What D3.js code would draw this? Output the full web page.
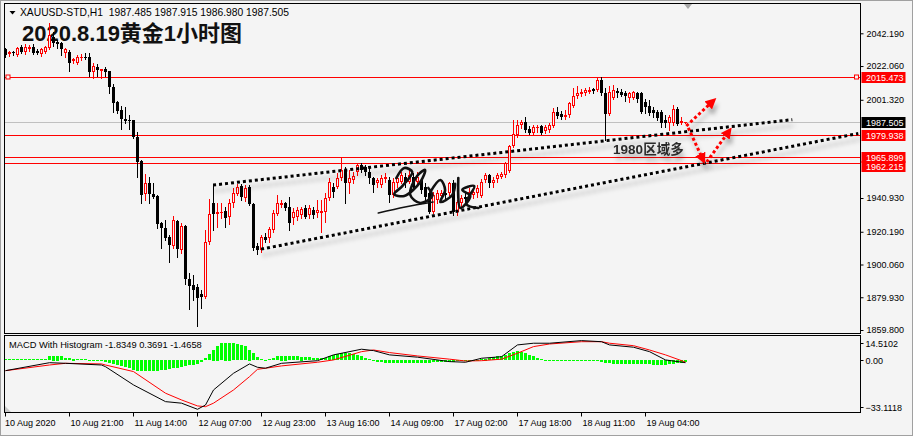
<!DOCTYPE html>
<html>
<head>
<meta charset="utf-8">
<script src="https://cdnjs.cloudflare.com/ajax/libs/d3/7.8.5/d3.min.js"></script>
<style>
  html, body { margin: 0; padding: 0; background: #f4f4f4; }
  svg { display: block; }
  text { font-family: "Liberation Sans", Arial, sans-serif; }
</style>
</head>
<body>
<div id="grafica"></div>
<script>
// ---------- datos ----------
// velas H1: [open, high, low, close]
ohlc = [
 [2032.3,2033.0,2027.8,2028.9],[2029.3,2031.1,2028.4,2030.5],[2030.7,2031.5,2028.9,2029.9],[2028.9,2033.9,2028.2,2033.0],
 [2033.6,2034.8,2030.3,2030.9],[2030.9,2035.4,2029.5,2033.6],[2032.5,2035.2,2031.5,2033.9],[2033.6,2035.6,2029.3,2029.9],
 [2031.5,2032.5,2029.3,2030.3],[2029.3,2033.3,2028.4,2032.5],[2030.7,2034.6,2029.9,2033.6],[2033.0,2048.3,2032.3,2041.1],
 [2040.1,2043.0,2034.4,2036.0],[2036.7,2038.1,2033.0,2035.4],[2036.0,2036.8,2028.9,2032.3],[2030.3,2033.0,2027.8,2032.3],
 [2030.5,2031.9,2019.2,2023.7],[2025.2,2027.2,2023.7,2026.2],[2024.1,2028.9,2023.3,2027.4],[2026.8,2029.5,2025.8,2027.8],
 [2027.8,2029.9,2026.2,2027.2],[2027.8,2029.9,2015.9,2018.6],[2018.6,2024.1,2014.9,2022.1],[2021.7,2023.3,2015.9,2019.6],
 [2019.2,2020.1,2014.5,2020.1],[2020.1,2021.7,2015.9,2018.6],[2019.0,2019.3,2005.3,2009.0],[2009.0,2011.0,1994.0,1999.5],
 [2000.1,2000.5,1993.0,1994.6],[1995.0,1997.7,1983.2,1989.3],[1989.5,1997.1,1986.9,1988.3],[1988.9,1992.0,1983.2,1988.5],
 [1988.9,1989.2,1977.6,1978.3],[1978.6,1981.7,1953.7,1963.3],[1963.9,1964.2,1938.1,1942.8],[1943.2,1955.7,1939.7,1950.0],
 [1950.4,1953.7,1937.7,1943.2],[1943.4,1950.4,1940.8,1941.4],[1942.2,1942.5,1922.3,1925.0],[1925.8,1926.4,1910.0,1922.3],
 [1922.3,1927.4,1915.1,1916.2],[1916.8,1918.2,1901.4,1912.0],[1911.6,1929.9,1910.0,1927.4],[1926.6,1927.4,1904.9,1909.6],
 [1909.0,1925.4,1907.3,1923.7],[1923.7,1924.4,1888.1,1891.0],[1891.0,1894.7,1872.5,1886.9],[1887.5,1893.6,1878.3,1884.4],
 [1886.2,1888.1,1862.3,1879.5],[1881.9,1884.4,1873.3,1880.1],[1880.1,1921.3,1879.5,1913.9],[1913.7,1940.2,1912.7,1930.9],
 [1937.7,1949.6,1921.3,1930.9],[1930.9,1937.7,1923.3,1932.2],[1931.5,1937.7,1928.5,1932.3],[1932.9,1935.6,1923.3,1928.8],
 [1929.1,1940.2,1925.0,1937.7],[1937.7,1946.9,1935.6,1943.8],[1943.4,1949.6,1942.8,1947.9],[1948.3,1949.6,1939.7,1941.4],
 [1940.8,1948.9,1939.3,1946.9],[1947.5,1948.9,1936.6,1937.1],[1937.3,1937.9,1909.0,1910.2],[1911.4,1913.3,1906.5,1909.0],
 [1909.0,1918.2,1907.8,1916.9],[1917.2,1919.4,1914.1,1915.1],[1916.2,1923.3,1914.1,1921.7],[1921.3,1933.6,1920.2,1931.5],
 [1931.1,1942.8,1930.5,1937.7],[1936.8,1939.7,1935.6,1937.7],[1937.7,1938.7,1933.6,1934.6],[1935.6,1941.6,1921.3,1925.4],
 [1928.6,1934.8,1925.0,1932.3],[1929.4,1935.6,1927.4,1933.6],[1930.5,1935.6,1928.5,1934.0],[1934.6,1936.6,1928.5,1929.4],
 [1930.5,1936.6,1928.5,1934.6],[1933.6,1935.6,1928.5,1930.5],[1931.5,1939.7,1929.4,1933.6],[1931.5,1939.7,1920.2,1933.1],
 [1932.5,1943.8,1926.4,1940.8],[1940.8,1953.0,1939.7,1950.9],[1947.5,1950.0,1941.7,1944.8],[1947.9,1956.1,1946.9,1953.0],
 [1953.0,1966.0,1952.0,1958.2],[1958.2,1960.2,1937.7,1950.0],[1950.0,1958.2,1943.8,1953.4],[1952.0,1957.1,1950.0,1954.5],
 [1957.1,1962.3,1955.1,1961.2],[1961.2,1962.3,1957.1,1958.2],[1960.2,1961.2,1955.1,1957.1],[1957.1,1959.2,1950.0,1953.0],
 [1953.0,1954.0,1944.8,1948.9],[1950.0,1953.0,1947.9,1952.0],[1948.9,1955.1,1947.9,1953.0],[1952.4,1956.1,1950.9,1954.0],
 [1952.0,1954.0,1938.7,1942.8],[1942.8,1953.0,1941.7,1950.9],[1950.0,1955.1,1947.9,1953.0],[1950.9,1957.1,1950.0,1955.1],
 [1954.0,1956.1,1947.9,1950.0],[1950.9,1958.2,1950.0,1955.1],[1954.0,1956.1,1946.9,1947.9],[1950.9,1957.1,1950.0,1954.0],
 [1952.0,1953.0,1943.8,1945.9],[1947.9,1950.0,1939.7,1941.7],[1943.8,1945.9,1931.5,1932.5],[1932.5,1944.8,1931.5,1942.8],
 [1939.7,1945.9,1937.7,1943.8],[1942.2,1945.9,1940.8,1943.8],[1944.2,1945.9,1940.8,1942.8],[1943.8,1950.9,1942.8,1950.0],
 [1950.0,1952.0,1930.5,1932.5],[1932.5,1939.7,1930.5,1938.7],[1937.7,1942.8,1935.6,1940.8],[1941.7,1943.8,1937.7,1940.2],
 [1941.7,1946.9,1939.7,1944.8],[1942.8,1946.9,1940.8,1944.8],[1943.8,1948.9,1941.7,1946.9],[1942.2,1952.4,1941.7,1950.9],
 [1952.0,1956.5,1950.9,1955.1],[1955.1,1955.7,1947.9,1950.4],[1950.4,1954.0,1947.5,1952.0],[1952.4,1956.1,1950.9,1955.1],
 [1953.7,1957.1,1953.0,1955.7],[1955.1,1963.3,1954.0,1962.3],[1957.7,1973.5,1957.1,1972.9],[1972.9,1988.9,1972.1,1980.3],
 [1979.7,1988.9,1978.3,1985.8],[1985.8,1988.9,1983.8,1987.9],[1987.9,1990.9,1981.7,1982.7],[1983.2,1985.2,1980.3,1981.1],
 [1981.1,1985.8,1980.3,1984.8],[1983.8,1985.8,1981.7,1984.8],[1985.2,1985.8,1980.3,1981.1],[1982.3,1985.8,1980.7,1984.8],
 [1982.7,1986.9,1981.7,1985.8],[1985.2,1996.1,1984.8,1994.0],[1994.0,1997.1,1989.9,1991.4],[1992.6,1994.6,1989.3,1990.5],
 [1990.5,1995.0,1989.3,1992.0],[1992.0,2000.1,1990.9,1999.2],[1997.5,2008.4,1997.1,2003.6],[2003.6,2009.8,2002.2,2005.7],
 [2004.9,2007.8,2003.6,2006.3],[2005.7,2008.4,2004.3,2007.3],[2006.3,2009.4,2005.3,2007.3],[2007.8,2008.4,2005.3,2006.9],
 [2007.3,2015.5,2006.9,2013.5],[2013.5,2015.1,2004.3,2005.3],[2005.3,2008.4,1976.6,1992.6],[1992.6,2009.8,1992.0,2006.3],
 [2002.2,2010.4,2001.6,2007.3],[2006.9,2008.4,2003.2,2005.3],[2006.3,2007.8,2003.6,2004.3],[2005.3,2006.9,2000.8,2003.6],
 [2002.2,2006.3,2000.1,2005.3],[2002.2,2006.9,2001.6,2006.3],[2005.7,2006.3,2000.1,2001.6],[2005.7,2006.3,1993.4,1994.0],
 [2000.1,2001.6,1993.4,1997.1],[1997.5,2001.2,1992.0,1993.0],[1995.0,1997.1,1990.9,1993.4],[1994.0,1995.0,1988.9,1989.9],
 [1994.0,1995.0,1984.8,1986.9],[1988.9,1992.0,1984.8,1987.2],[1986.9,1992.0,1982.7,1990.5],[1986.9,1998.1,1985.8,1995.5],
 [1995.5,1997.1,1985.8,1986.4],[1987.2,1990.5,1986.4,1988.5],[1987.485,1987.915,1986.980,1987.505]
]

// MACD: histograma (una barra por vela)
histograma = [
 0.8,0.8,0.8,0.8,0.8,0.8,0.8,0.8,0.8,0.8,0.8,
 2.5,3,3,2.5, 1.5,1.2,1,0.8, 0.6,0.5,0.3,0.2,0,-0.3,
 -1,-1.8,-2.5,-3.5,-4, -4.5,-5.5,-6.5,-7.2,-7.5,
 -7.5,-7.2,-7,-7,-6.8,-6.5,-6, -5.5,-5,-4.5,-4,-3.5,-3,-2.5,
 -1,1.5, 4,7,9.5,11,11.5, 11.5,11,10.5,10,9, 7,4.5,2, 0.5,0.3,0.5,
 1.5,2.5,3,3, 2.8,2.5,2.5,2.3,2,1.8,1.5,1.5, 1.3,1.5,2.5,3.5,4,4.5,
 4.5,4.5,4,3.5, 2.5,1.5,0.5,-0.5,
 -1,-1.5,-1.8,-2,-2,-2,-2,-1.8,-1.8,-1.8,-2,-2.2,-2,-1.8,-1.5,-1.5,-1.5,-1.5,
 -1.2,-1,-0.8,-0.5,-0.5,-0.3,0,0.3, 0.5,1,1.5,2,2.5,2.8, 3.5,4.5,5.5,6,5.5,4.5,
 3.5,2.5,1.5,0.8,
 0.3,0.2,0.2,0.1,0,0.2,0.3,0.3,0.2,0.1,0,0,-0.3,-0.5,-1,
 -1.8,-2.2,-2.5,-2.5,-2.5,-2.5,-2.5,-2.5,-2.5,-2.8,-2.8,-2.8,-3,-3,-3,-3,-2.8,-2.5,-2.2,-1.8,-1.5
]
macdIdx   = [0,11,15,24,25,32,40,44,48,50,52,57,61,63,65,69,78,82,89,92,96,103,111,115,119,124,128,132,136,144,149,151,157,161,165,170]
macdLinea = [-6.8,-1.6,-2.0,-3.1,-4.2,-16.1,-27.0,-28.0,-32.0,-29.2,-19.4,-8.5,-2.4,-4.6,-5.2,-2.0,-0.3,3.5,7.2,6.3,3.5,2.0,-0.9,-1.3,1.3,2.3,10.0,11.1,11.1,12.8,12.1,10.0,8.5,5.6,0.2,-1.6]
senal     = [-6.8,-3.1,-2.0,-2.4,-3.1,-7.4,-21.5,-25.9,-29.8,-30.3,-28.0,-19.4,-10.7,-5.9,-5.2,-3.7,-1.3,0.2,5.6,6.7,5.0,2.8,0.7,-0.5,-0.3,0.7,4.6,8.9,10.6,12.1,12.1,11.1,9.5,6.7,3.5,-1.2]

// ejes
preciosTicks = [2042.190, 2022.060, 2001.320, 1940.930, 1920.190, 1900.060, 1879.930, 1859.800]
macdTicks    = [14.5102, 0, -33.1118]
fechasIdx    = [0, 16, 32, 48, 64, 80, 96, 112, 128, 144, 160]
fechas       = ['10 Aug 2020','10 Aug 21:00','11 Aug 14:00','12 Aug 07:00','12 Aug 23:00','13 Aug 16:00',
                '14 Aug 09:00','17 Aug 02:00','17 Aug 18:00','18 Aug 11:00','19 Aug 04:00']

// niveles horizontales
nivelesRojos = [2015.473, 1979.938, 1962.215, 1965.899]
precioBid    = 1987.505

// objetos dibujados: [indice de vela, precio]
lineaSuperior = [[51.9, 1948.9], [196.7, 1989.1]]
lineaInferior = [[63.9, 1909.5], [213.2, 1980.6]]
flechas = [
  [[170.2, 1985.2], [176.9, 2000.6]],
  [[170.7, 1984.0], [174.4, 1964.3]],
  [[175.3, 1963.1], [180.9, 1982.1]]
]
firma = [
  [[93.2,1931.7],[99.9,1935.4],[106.9,1938.5]],
  [[97.7,1953.2],[99.7,1959.4],[101.7,1956.9],[99.2,1948.3],[97.2,1943.4],[99.7,1942.2],[103.7,1950.8],
   [104.9,1958.2],[102.9,1954.5],[101.2,1942.8],[103.7,1937.9],[106.7,1942.2],[105.7,1947.1]],
  [[106.2,1944.6],[108.7,1952.0],[109.9,1945.9],[108.7,1938.5],[111.7,1942.8],[112.4,1949.6]],
  [[113.2,1953.2],[113.7,1934.8],[116.2,1942.2],[114.2,1945.9],[117.2,1948.3],[115.2,1937.3],[118.2,1934.8]]
]
notaTexto = [151.9, 1967.7]

// ---------- lienzo ----------
ancho_total = 913
alto_total  = 436
panel = { left: 4.5, right: 860.5, top: 3.5, bottom: 333.5 }
panelM = { top: 335.5, bottom: 412.5 }
fondo = '#f4f4f4'

svg = d3.select('#grafica').append('svg')
        .attr('width', ancho_total)
        .attr('height', alto_total)

svg.append('rect').attr('width', ancho_total).attr('height', alto_total).attr('fill', fondo)
svg.append('rect').attr('x', 0.5).attr('y', 0.5).attr('width', ancho_total - 1).attr('height', alto_total - 1)
   .attr('fill', 'none').attr('stroke', '#a0a0a0')

defs = svg.append('defs')
defs.append('clipPath').attr('id', 'clipMain').append('rect')
    .attr('x', panel.left).attr('y', panel.top)
    .attr('width', panel.right - panel.left).attr('height', panel.bottom - panel.top)
defs.append('clipPath').attr('id', 'clipMacd').append('rect')
    .attr('x', panel.left).attr('y', panelM.top)
    .attr('width', panel.right - panel.left).attr('height', panelM.bottom - panelM.top)
sombra = defs.append('filter').attr('id', 'sombra')
    .attr('filterUnits', 'userSpaceOnUse').attr('x', 0).attr('y', 0).attr('width', ancho_total).attr('height', alto_total)
sombra.append('feDropShadow').attr('dx', 2).attr('dy', 6).attr('stdDeviation', 2.2)
    .attr('flood-color', '#000').attr('flood-opacity', 0.28)
defs.append('marker').attr('id', 'punta')
    .attr('viewBox', '0 0 10 10').attr('refX', 6).attr('refY', 5)
    .attr('markerWidth', 11).attr('markerHeight', 11)
    .attr('markerUnits', 'userSpaceOnUse').attr('orient', 'auto')
  .append('path').attr('d', 'M0,0 L10,5 L0,10 z').attr('fill', '#ff0000')

// escaladores
x  = d3.scaleLinear().domain([0, 170]).range([5.5, 685.5])
y  = d3.scaleLinear().domain([1859.8, 2042.19]).range([330, 33.3])
yM = d3.scaleLinear().domain([-33.1118, 14.5102]).range([411, 338])
px = (v) => Math.round(y(v))

// ---------- panel principal ----------
g = svg.append('g').attr('clip-path', 'url(#clipMain)')

g.append('line')
  .attr('x1', panel.left).attr('x2', panel.right)
  .attr('y1', px(precioBid) + 0.5).attr('y2', px(precioBid) + 0.5)
  .attr('stroke', '#c0c0c0')

g.selectAll('line.nivel').data(nivelesRojos).join('line')
  .attr('class', 'nivel')
  .attr('x1', panel.left).attr('x2', panel.right)
  .attr('y1', (d) => px(d) + 0.5).attr('y2', (d) => px(d) + 0.5)
  .attr('stroke', '#ff0000')

// marcas de seleccion del nivel 2015
;[panel.left + 1.5, panel.right - 6].forEach((xx) => {
  g.append('rect').attr('x', xx).attr('y', px(nivelesRojos[0]) - 2)
    .attr('width', 4).attr('height', 4)
    .attr('fill', fondo).attr('stroke', '#ff0000')
})

// titulo
g.append('path').attr('d', 'M9.5,11 L15.5,11 L12.5,14.5 Z').attr('fill', '#000')
g.append('text').attr('x', 20).attr('y', 16)
  .attr('font-size', '10.3px').attr('fill', '#000').style('white-space', 'pre')
  .text('XAUUSD-STD,H1  1987.485 1987.915 1986.980 1987.505')
g.append('text').attr('x', 22).attr('y', 41)
  .attr('font-size', '22px').attr('font-weight', 'bold').attr('fill', '#111')
  .style('font-family', '"Liberation Sans", "Noto Sans CJK SC", sans-serif')
  .text('2020.8.19黄金1小时图')

// velas
velas = g.append('g').selectAll('g').data(ohlc).join('g')
velas.append('line')
  .attr('x1', (d, i) => x(i)).attr('x2', (d, i) => x(i))
  .attr('y1', (d) => px(d[1])).attr('y2', (d) => px(d[2]) + 1)
  .attr('stroke', (d) => d[3] > d[0] ? '#ff0000' : '#000')
velas.each(function (d, i) {
  alcista = d[3] > d[0]
  arriba = px(Math.max(d[0], d[3]))
  abajo  = px(Math.min(d[0], d[3]))
  if (alcista && abajo - arriba >= 2) {
    d3.select(this).append('rect')
      .attr('x', x(i) - 1).attr('y', arriba + 0.5)
      .attr('width', 2).attr('height', abajo - arriba - 1)
      .attr('fill', fondo).attr('stroke', '#ff0000')
  } else {
    d3.select(this).append('rect')
      .attr('x', x(i) - 1.5).attr('y', arriba)
      .attr('width', 3).attr('height', Math.max(1, abajo - arriba))
      .attr('fill', alcista ? '#ff0000' : '#000')
  }
})

// lineas de tendencia punteadas
linea = d3.line().x((d) => x(d[0])).y((d) => y(d[1]))
g.selectAll('path.tendencia').data([lineaSuperior, lineaInferior]).join('path')
  .attr('class', 'tendencia')
  .attr('d', linea)
  .attr('fill', 'none').attr('stroke', '#000')
  .attr('stroke-width', 3).attr('stroke-dasharray', '3,3')
  .attr('filter', 'url(#sombra)')

// firma
g.selectAll('path.firma').data(firma).join('path')
  .attr('class', 'firma')
  .attr('d', d3.line().x((d) => x(d[0])).y((d) => y(d[1])).curve(d3.curveCatmullRom))
  .attr('fill', 'none').attr('stroke', '#111')
  .attr('stroke-width', (d, i) => i == 0 ? 1.6 : 2.6)
  .attr('stroke-linecap', 'round').attr('stroke-linejoin', 'round')

// texto de la zona
g.append('text')
  .attr('x', x(notaTexto[0])).attr('y', y(notaTexto[1]))
  .attr('font-size', '13.5px').attr('font-weight', 'bold').attr('fill', '#2a2a2a')
  .style('font-family', '"Liberation Sans", "Noto Sans CJK SC", sans-serif')
  .attr('filter', 'url(#sombra)')
  .text('1980区域多')

// flechas rojas
g.selectAll('path.flecha').data(flechas).join('path')
  .attr('class', 'flecha')
  .attr('d', linea)
  .attr('fill', 'none').attr('stroke', '#ff0000')
  .attr('stroke-width', 3).attr('stroke-dasharray', '3,2.5')
  .attr('marker-end', 'url(#punta)')
  .attr('filter', 'url(#sombra)')

// marca de desplazamiento
svg.append('path').attr('d', 'M684,4 L692,4 L688,9 Z').attr('fill', '#a8a8a8')

// marcos
svg.append('rect').attr('x', panel.left).attr('y', panel.top)
  .attr('width', panel.right - panel.left).attr('height', panel.bottom - panel.top)
  .attr('fill', 'none').attr('stroke', '#000')

// eje de precios
yAxisCall = d3.axisRight(y).tickValues(preciosTicks).tickSize(3).tickPadding(3)
              .tickFormat(d3.format('.3f'))
yGroup = svg.append('g').attr('transform', `translate(${panel.right}, 0)`).call(yAxisCall)
yGroup.select('.domain').remove()
yGroup.selectAll('text').attr('font-size', '9px').attr('fill', '#000')
  .attr('font-family', '"Liberation Sans", Arial, sans-serif')

// etiquetas de niveles (la de 1962.215 queda medio tapada por la de 1965.899)
desplazo = { 1962.215: 3 }
etiquetas = nivelesRojos.map((v) => ({ v: v, c: '#ff0000' }))
etiquetas.push({ v: precioBid, c: '#000' })
eg = svg.selectAll('g.etiqueta').data(etiquetas).join('g').attr('class', 'etiqueta')
eg.append('rect')
  .attr('x', panel.right + 1).attr('y', (d) => px(d.v) - 5 + (desplazo[d.v] || 0))
  .attr('width', 44).attr('height', 11)
  .attr('fill', (d) => d.c)
eg.append('text')
  .attr('x', panel.right + 5.5).attr('y', (d) => px(d.v) + 4 + (desplazo[d.v] || 0))
  .attr('font-size', '9px').attr('fill', '#fff')
  .text((d) => d3.format('.3f')(d.v))

// ---------- MACD ----------
m = svg.append('g').attr('clip-path', 'url(#clipMacd)')
m.selectAll('rect').data(histograma).join('rect')
  .attr('x', (d, i) => x(i) - 1.5)
  .attr('y', (d) => Math.round(Math.min(yM(0), yM(d))))
  .attr('width', 3)
  .attr('height', (d) => Math.max(1, Math.round(Math.abs(yM(d) - yM(0)))))
  .attr('fill', '#00ff00')

lineaM = d3.line().x((d) => x(d[0])).y((d) => yM(d[1]))
m.append('path').datum(macdIdx.map((d, i) => [d, senal[i]]))
  .attr('d', lineaM).attr('fill', 'none').attr('stroke', '#ff0000')
m.append('path').datum(macdIdx.map((d, i) => [d, macdLinea[i]]))
  .attr('d', lineaM).attr('fill', 'none').attr('stroke', '#000')

svg.append('path').attr('d', `M5,${panelM.bottom - 0.5} L5,${panelM.bottom - 6.5} L11,${panelM.bottom - 0.5} Z`)
  .attr('fill', '#c8c8c8')

svg.append('rect').attr('x', panel.left).attr('y', panelM.top)
  .attr('width', panel.right - panel.left).attr('height', panelM.bottom - panelM.top)
  .attr('fill', 'none').attr('stroke', '#000')

svg.append('text').attr('x', 9).attr('y', 348)
  .attr('font-size', '9.3px').attr('fill', '#000')
  .text('MACD With Histogram -1.8349 0.3691 -1.4658')

ajusteM = [5, 0, -4]
mAxis = svg.append('g')
mAxis.selectAll('line').data(macdTicks).join('line')
  .attr('x1', panel.right).attr('x2', panel.right + 3)
  .attr('y1', (d, i) => Math.round(yM(d) + ajusteM[i]) + 0.5)
  .attr('y2', (d, i) => Math.round(yM(d) + ajusteM[i]) + 0.5)
  .attr('stroke', '#000')
mAxis.selectAll('text').data(macdTicks).join('text')
  .attr('x', panel.right + 5)
  .attr('y', (d, i) => yM(d) + ajusteM[i] + 3.5)
  .attr('font-size', '9px').attr('fill', '#000')
  .text((d) => d == 0 ? '0.00' : d3.format('.4f')(d))

// ---------- eje de tiempo ----------
tAxis = svg.append('g')
tAxis.selectAll('line').data(fechasIdx).join('line')
  .attr('x1', (d) => x(d)).attr('x2', (d) => x(d))
  .attr('y1', panelM.bottom).attr('y2', panelM.bottom + 4)
  .attr('stroke', '#000')
tAxis.selectAll('text').data(fechasIdx).join('text')
  .attr('x', (d) => d == 0 ? 5 : x(d) + 1)
  .attr('y', 426)
  .attr('font-size', '9px').attr('fill', '#000')
  .text((d, i) => fechas[i])
</script>
</body>
</html>
